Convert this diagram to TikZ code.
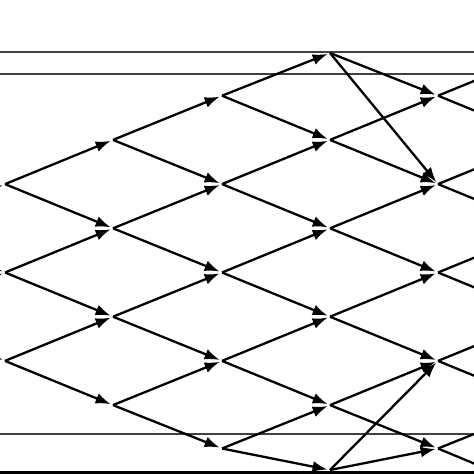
\documentclass[tikz,border=0pt]{standalone}
\usetikzlibrary{arrows.meta}
\begin{document}
\begin{tikzpicture}[x=1pt,y=-1pt,
  edge/.style={line width=2.3pt,-{Latex[length=15pt,width=11pt]},shorten >=2.5pt},
  plainedge/.style={line width=2.3pt},
  rulethin/.style={line width=1.2pt,draw=black!75},
  rulethick/.style={line width=3pt,draw=black}]
\useasboundingbox (0,0) rectangle (474,474);
\clip (0,0) rectangle (474,474);
% horizontal rules
\coordinate (r1l) at (0,52);   \coordinate (r1r) at (474,52);
\coordinate (r2l) at (0,74);   \coordinate (r2r) at (474,74);
\coordinate (r3l) at (0,434);  \coordinate (r3r) at (474,434);
\coordinate (r4l) at (0,472);  \coordinate (r4r) at (474,472);
\draw[rulethin] (r1l) -- (r1r);
\draw[rulethin] (r2l) -- (r2r);
\draw[rulethin] (r3l) -- (r3r);
\draw[rulethick] (r4l) -- (r4r);
% lattice points
\coordinate (m1) at (-103.25,228.3);
\coordinate (m2) at (-103.25,316.7);
\coordinate (a1) at (5,184.1);
\coordinate (a2) at (5,272.5);
\coordinate (a3) at (5,360.9);
\coordinate (b1) at (113,139.9);
\coordinate (b2) at (113,228.3);
\coordinate (b3) at (113,316.7);
\coordinate (b4) at (113,405.1);
\coordinate (c1) at (222,95.7);
\coordinate (c2) at (222,184.1);
\coordinate (c3) at (222,272.5);
\coordinate (c4) at (222,360.9);
\coordinate (c5) at (222,448.5);
\coordinate (dT) at (330,53);
\coordinate (d1) at (330,139.9);
\coordinate (d2) at (330,228.3);
\coordinate (d3) at (330,316.7);
\coordinate (d4) at (330,405.1);
\coordinate (dB) at (330,470);
\coordinate (e1) at (438,95.7);
\coordinate (e2) at (438,184.1);
\coordinate (e3) at (438,272.5);
\coordinate (e4) at (438,360.9);
\coordinate (e5) at (438,448.5);
\coordinate (f0) at (546,51.5);
\coordinate (f1) at (546,139.9);
\coordinate (f2) at (546,228.3);
\coordinate (f3) at (546,316.7);
\coordinate (f4) at (546,405.1);
\coordinate (f5) at (546,493.5);
% incoming from the left
\draw[edge] (m1) -- (a1);
\draw[edge] (m1) -- (a2);
\draw[edge] (m2) -- (a2);
\draw[edge] (m2) -- (a3);
% column 0 -> 1
\draw[edge] (a1) -- (b1);
\draw[edge] (a1) -- (b2);
\draw[edge] (a2) -- (b2);
\draw[edge] (a2) -- (b3);
\draw[edge] (a3) -- (b3);
\draw[edge] (a3) -- (b4);
% column 1 -> 2
\draw[edge] (b1) -- (c1);
\draw[edge] (b1) -- (c2);
\draw[edge] (b2) -- (c2);
\draw[edge] (b2) -- (c3);
\draw[edge] (b3) -- (c3);
\draw[edge] (b3) -- (c4);
\draw[edge] (b4) -- (c4);
\draw[edge] (b4) -- (c5);
% column 2 -> 3
\draw[edge] (c1) -- (dT);
\draw[edge] (c1) -- (d1);
\draw[edge] (c2) -- (d1);
\draw[edge] (c2) -- (d2);
\draw[edge] (c3) -- (d2);
\draw[edge] (c3) -- (d3);
\draw[edge] (c4) -- (d3);
\draw[edge] (c4) -- (d4);
\draw[edge] (c5) -- (d4);
\draw[edge] (c5) -- (dB);
% column 3 -> 4
\draw[edge] (dT) -- (e1);
\draw[edge] (dT) -- (e2);
\draw[edge] (d1) -- (e1);
\draw[edge] (d1) -- (e2);
\draw[edge] (d2) -- (e2);
\draw[edge] (d2) -- (e3);
\draw[edge] (d3) -- (e3);
\draw[edge] (d3) -- (e4);
\draw[edge] (d4) -- (e4);
\draw[edge] (d4) -- (e5);
\draw[edge] (dB) -- (e5);
\draw[edge] (dB) -- (e4);
% column 4 -> off page
\draw[plainedge] (e1) -- (f0);
\draw[plainedge] (e1) -- (f1);
\draw[plainedge] (e2) -- (f1);
\draw[plainedge] (e2) -- (f2);
\draw[plainedge] (e3) -- (f2);
\draw[plainedge] (e3) -- (f3);
\draw[plainedge] (e4) -- (f3);
\draw[plainedge] (e4) -- (f4);
\draw[plainedge] (e5) -- (f4);
\draw[plainedge] (e5) -- (f5);
\end{tikzpicture}
\end{document}
